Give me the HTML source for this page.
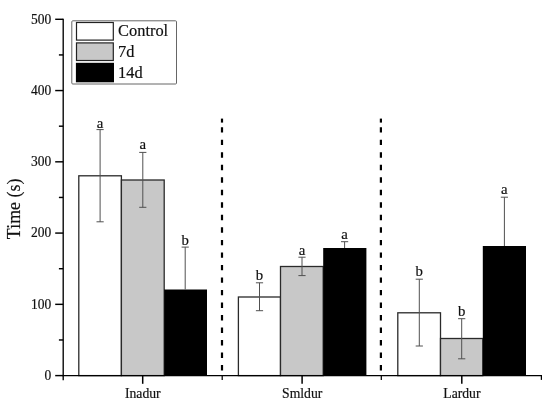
<!DOCTYPE html>
<html><head><meta charset="utf-8"><title>chart</title>
<style>html,body{margin:0;padding:0;background:#fff}svg text{font-family:"Liberation Serif",serif;fill:#111;stroke:#111;stroke-width:0.18px}</style></head>
<body>
<svg width="550" height="406" viewBox="0 0 550 406" style="display:block">
<rect width="550" height="406" fill="#fff"/>
<rect x="78.8" y="175.8" width="42.60000000000001" height="199.8" fill="#fff" stroke="#2a2a2a" stroke-width="1.3"/>
<rect x="121.4" y="180.0" width="42.79999999999998" height="195.60000000000002" fill="#c8c8c8" stroke="#2a2a2a" stroke-width="1.3"/>
<rect x="164.2" y="289.5" width="42.80000000000001" height="86.10000000000002" fill="#000"/>
<rect x="238.4" y="297.0" width="42.099999999999994" height="78.60000000000002" fill="#fff" stroke="#2a2a2a" stroke-width="1.3"/>
<rect x="280.5" y="266.5" width="42.69999999999999" height="109.10000000000002" fill="#c8c8c8" stroke="#2a2a2a" stroke-width="1.3"/>
<rect x="323.2" y="248" width="43.19999999999999" height="127.60000000000002" fill="#000"/>
<rect x="397.8" y="312.8" width="42.69999999999999" height="62.80000000000001" fill="#fff" stroke="#2a2a2a" stroke-width="1.3"/>
<rect x="440.5" y="338.5" width="42.30000000000001" height="37.10000000000002" fill="#c8c8c8" stroke="#2a2a2a" stroke-width="1.3"/>
<rect x="482.8" y="246" width="43.19999999999999" height="129.60000000000002" fill="#000"/>
<path d="M100.1 129.6V221.8M96.5 129.6h7.2M96.5 221.8h7.2" stroke="#505050" stroke-width="1" fill="none"/>
<text x="100.1" y="128" text-anchor="middle" font-size="14.8">a</text>
<path d="M142.8 152.4V207.3M139.20000000000002 152.4h7.2M139.20000000000002 207.3h7.2" stroke="#505050" stroke-width="1" fill="none"/>
<text x="142.8" y="149" text-anchor="middle" font-size="14.8">a</text>
<path d="M185.2 247.1V289.5M181.6 247.1h7.2" stroke="#505050" stroke-width="1" fill="none"/>
<text x="185.2" y="245" text-anchor="middle" font-size="14.8">b</text>
<path d="M259.5 282.8V310.7M255.9 282.8h7.2M255.9 310.7h7.2" stroke="#505050" stroke-width="1" fill="none"/>
<text x="259.5" y="280" text-anchor="middle" font-size="14.8">b</text>
<path d="M302.0 257.2V275.6M298.4 257.2h7.2M298.4 275.6h7.2" stroke="#505050" stroke-width="1" fill="none"/>
<text x="302.0" y="255" text-anchor="middle" font-size="14.8">a</text>
<path d="M344.6 241.7V248M341.0 241.7h7.2" stroke="#505050" stroke-width="1" fill="none"/>
<text x="344.6" y="239" text-anchor="middle" font-size="14.8">a</text>
<path d="M419.3 279.2V346.0M415.7 279.2h7.2M415.7 346.0h7.2" stroke="#505050" stroke-width="1" fill="none"/>
<text x="419.3" y="276" text-anchor="middle" font-size="14.8">b</text>
<path d="M461.7 318.7V358.8M458.09999999999997 318.7h7.2M458.09999999999997 358.8h7.2" stroke="#505050" stroke-width="1" fill="none"/>
<text x="461.7" y="316" text-anchor="middle" font-size="14.8">b</text>
<path d="M504.4 197.2V246M500.79999999999995 197.2h7.2" stroke="#505050" stroke-width="1" fill="none"/>
<text x="504.4" y="194" text-anchor="middle" font-size="14.8">a</text>
<path d="M222.0 118.6V122.6" stroke="#000" stroke-width="2.2" fill="none"/>
<path d="M222.0 127.2V374" stroke="#000" stroke-width="2.2" stroke-dasharray="5.4 7.12" fill="none"/>
<path d="M380.9 118.6V122.6" stroke="#000" stroke-width="2.2" fill="none"/>
<path d="M380.9 127.2V374" stroke="#000" stroke-width="2.2" stroke-dasharray="5.4 7.12" fill="none"/>
<path d="M63.2 18.650000000000013V380.2" stroke="#000" stroke-width="1.35" fill="none"/>
<path d="M62.400000000000006 375.6H542.0" stroke="#000" stroke-width="1.2" fill="none"/>
<path d="M63.2 375.6h-8.0" stroke="#000" stroke-width="1.45"/>
<text transform="translate(51.3 379.90000000000003) scale(1 1.04)" text-anchor="end" font-size="13.5">0</text>
<path d="M63.2 339.97h-4.3" stroke="#000" stroke-width="1.45"/>
<path d="M63.2 304.34000000000003h-8.0" stroke="#000" stroke-width="1.45"/>
<text transform="translate(51.3 308.64000000000004) scale(1 1.04)" text-anchor="end" font-size="13.5">100</text>
<path d="M63.2 268.71000000000004h-4.3" stroke="#000" stroke-width="1.45"/>
<path d="M63.2 233.08h-8.0" stroke="#000" stroke-width="1.45"/>
<text transform="translate(51.3 237.38000000000002) scale(1 1.04)" text-anchor="end" font-size="13.5">200</text>
<path d="M63.2 197.45000000000002h-4.3" stroke="#000" stroke-width="1.45"/>
<path d="M63.2 161.82000000000002h-8.0" stroke="#000" stroke-width="1.45"/>
<text transform="translate(51.3 166.12000000000003) scale(1 1.04)" text-anchor="end" font-size="13.5">300</text>
<path d="M63.2 126.19000000000003h-4.3" stroke="#000" stroke-width="1.45"/>
<path d="M63.2 90.56h-8.0" stroke="#000" stroke-width="1.45"/>
<text transform="translate(51.3 94.86) scale(1 1.04)" text-anchor="end" font-size="13.5">400</text>
<path d="M63.2 54.93000000000001h-4.3" stroke="#000" stroke-width="1.45"/>
<path d="M63.2 19.30000000000001h-8.0" stroke="#000" stroke-width="1.45"/>
<text transform="translate(51.3 23.600000000000012) scale(1 1.04)" text-anchor="end" font-size="13.5">500</text>
<path d="M142.7 375.6v8.2" stroke="#000" stroke-width="1.5"/>
<text transform="translate(142.79999999999998 397.9) scale(1 1.08)" text-anchor="middle" font-size="13.7">Inadur</text>
<path d="M302.1 375.6v8.2" stroke="#000" stroke-width="1.5"/>
<text transform="translate(302.20000000000005 397.9) scale(1 1.08)" text-anchor="middle" font-size="13.7">Smldur</text>
<path d="M461.8 375.6v8.2" stroke="#000" stroke-width="1.5"/>
<text transform="translate(461.90000000000003 397.9) scale(1 1.08)" text-anchor="middle" font-size="13.7">Lardur</text>
<path d="M222.2 375.6v4.3" stroke="#000" stroke-width="1.25"/>
<path d="M381.3 375.6v4.3" stroke="#000" stroke-width="1.25"/>
<path d="M541.4 375.6v4.3" stroke="#000" stroke-width="1.25"/>
<text transform="translate(20.0 208.9) rotate(-90)" text-anchor="middle" font-size="17.9">Time (s)</text>
<rect x="71.8" y="20.8" width="104.7" height="63.2" rx="1" fill="#fff" stroke="#666" stroke-width="1"/>
<rect x="76.5" y="22.5" width="36.8" height="17.6" fill="#fff" stroke="#222" stroke-width="1.2"/>
<text x="118.1" y="36.2" font-size="16.4">Control</text>
<rect x="76.5" y="42.9" width="36.8" height="17.6" fill="#c8c8c8" stroke="#222" stroke-width="1.2"/>
<text x="118.1" y="57.3" font-size="16.4">7d</text>
<rect x="75.9" y="62.8" width="38.1" height="19.5" fill="#000"/>
<text x="118.1" y="78.2" font-size="16.4">14d</text>
</svg>
</body></html>
